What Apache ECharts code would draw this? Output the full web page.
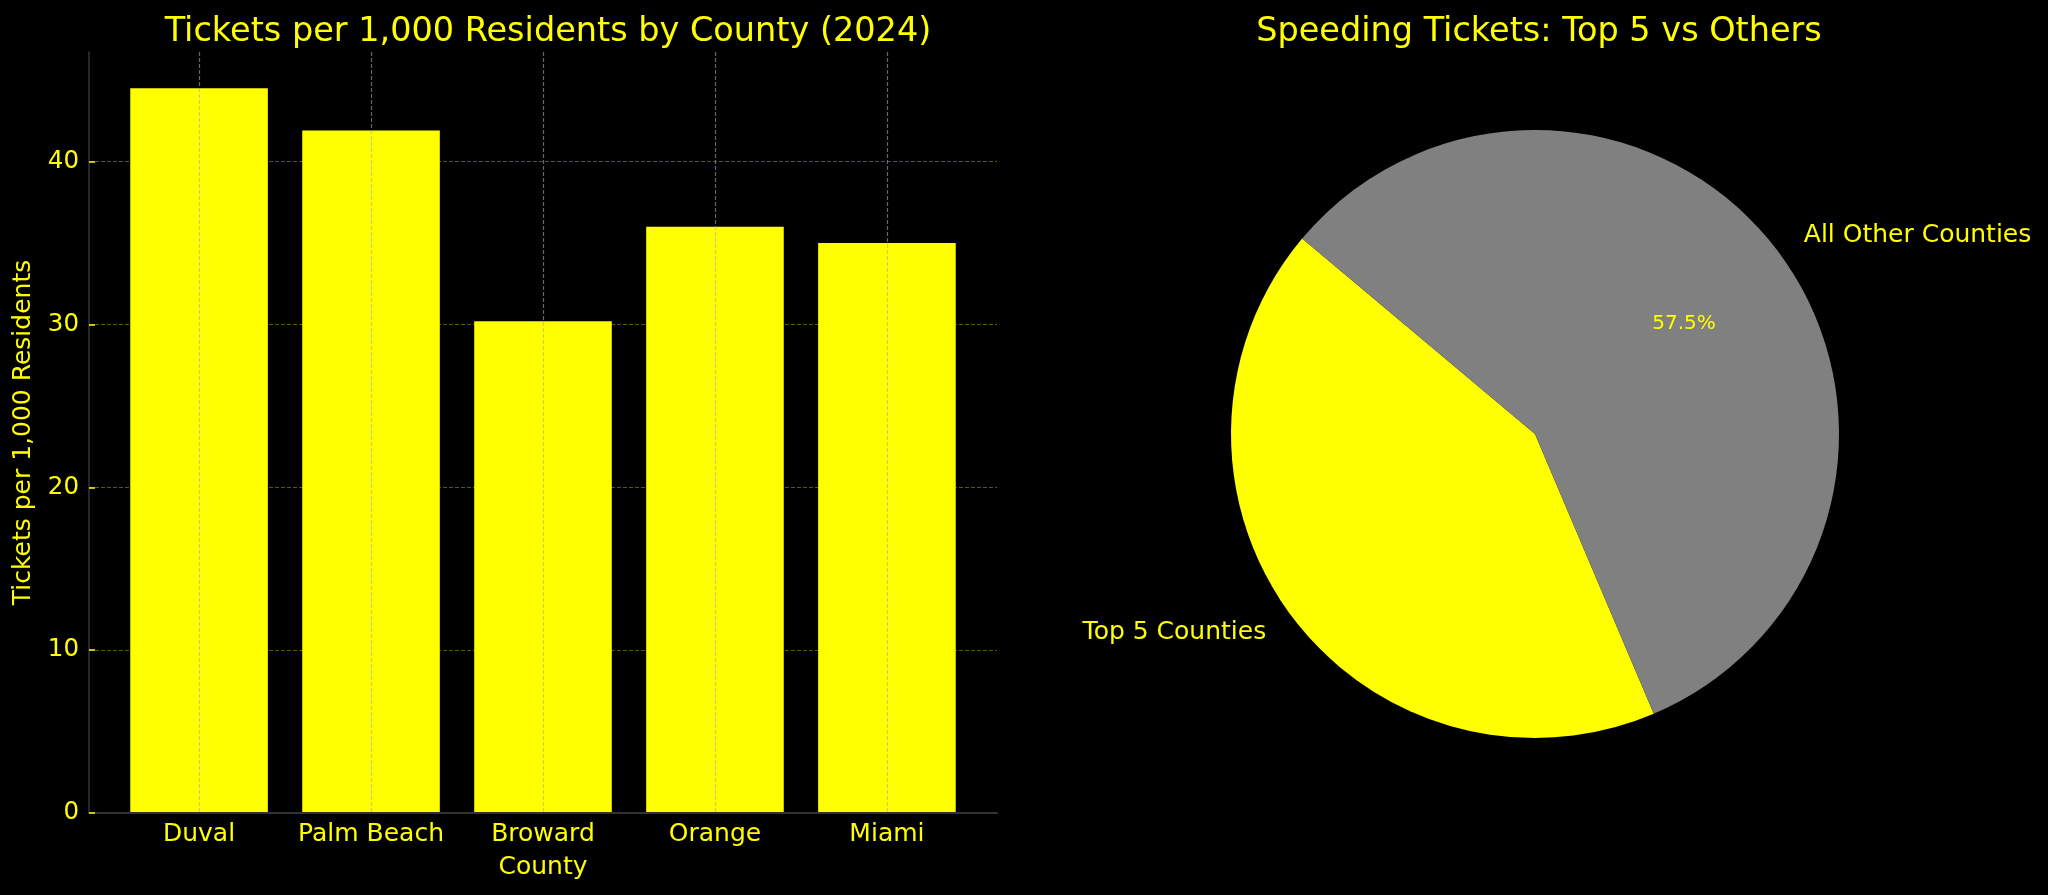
<!DOCTYPE html>
<html>
<head>
<meta charset="utf-8">
<script src="https://cdn.jsdelivr.net/npm/echarts@6/dist/echarts.min.js"></script>
<style>
html,body{margin:0;padding:0;background:#000;}
#c{width:2048px;height:895px;}
</style>
</head>
<body>
<div id="c"></div>
<script>
const categories = ['Duval', 'Palm Beach', 'Broward', 'Orange', 'Miami'];
const ticketsPer1000 = [44.5, 41.9, 30.2, 36.0, 35.0];
const yTicks = [0, 10, 20, 30, 40];
const pieNames = ['Top 5 Counties', 'All Other Counties'];
const pieShares = [42.5, 57.5];

const FONT = 'DejaVu Sans';
const YEL = '#ffff00';
const xIdx = categories.map((c, i) => i);

const chart = echarts.init(document.getElementById('c'), null, {renderer: 'canvas'});
chart.setOption({
  backgroundColor: '#000000',
  animation: false,
  textStyle: {fontFamily: FONT},
  title: [
    {text: 'Tickets per 1,000 Residents by County (2024)', left: 543, top: 10, textAlign: 'center',
     textStyle: {color: YEL, fontSize: 33.5, fontWeight: 'normal', fontFamily: FONT}},
    {text: 'Speeding Tickets: Top 5 vs Others', left: 1534, top: 10, textAlign: 'center',
     textStyle: {color: YEL, fontSize: 33.5, fontWeight: 'normal', fontFamily: FONT}}
  ],
  grid: [{left: 89, right: 1051, top: 52, bottom: 82, containLabel: false}],
  xAxis: [{
    type: 'value', min: -0.64, max: 4.64, z: 3,
    name: 'County', nameLocation: 'middle', nameGap: 42,
    nameTextStyle: {color: YEL, fontSize: 25, fontFamily: FONT},
    axisLine: {show: true, onZero: false, lineStyle: {color: '#333333', width: 2}},
    axisTick: {show: false, customValues: xIdx},
    axisLabel: {customValues: xIdx, color: YEL, fontSize: 25, fontFamily: FONT, margin: 9,
      formatter: v => categories[Math.round(v)] || ''},
    splitLine: {show: true, lineStyle: {color: 'rgba(170,170,170,0.6)', type: [4, 2], width: 1.2}}
  }],
  yAxis: [{
    type: 'value', min: 0, max: 46.725, z: 3,
    name: 'Tickets per 1,000 Residents', nameLocation: 'middle', nameGap: 53,
    nameTextStyle: {color: YEL, fontSize: 25, fontFamily: FONT},
    axisLine: {show: true, onZero: false, lineStyle: {color: '#333333', width: 1.5}},
    axisTick: {show: true, inside: true, length: 6, customValues: yTicks, lineStyle: {color: YEL, width: 1.5}},
    axisLabel: {customValues: yTicks, color: YEL, fontSize: 24.5, fontFamily: FONT, margin: 10},
    splitLine: {show: true, lineStyle: {color: 'rgba(255,255,0,0.35)', type: [4, 2], width: 1.2}}
  }],
  series: [
    {
      type: 'bar', xAxisIndex: 0, yAxisIndex: 0,
      barWidth: '80%',
      itemStyle: {color: YEL},
      data: categories.map((c, i) => [i, ticketsPer1000[i]])
    },
    {
      type: 'pie', center: [1535, 434], radius: [0, 304],
      startAngle: 140, clockwise: false, avoidLabelOverlap: false,
      silent: true,
      data: pieNames.map((n, i) => ({name: n, value: pieShares[i],
        itemStyle: {color: i === 0 ? YEL : '#808080'}})),
      label: {show: true, position: 'outside', formatter: '{b}', color: YEL,
        fontSize: 25, fontFamily: FONT, distanceToLabelLine: 0},
      labelLine: {show: false, length: 30.4, length2: 0},
      emphasis: {disabled: true}
    },
    {
      type: 'pie', center: [1535, 434], radius: [60.8, 304],
      startAngle: 140, clockwise: false, avoidLabelOverlap: false,
      silent: true, percentPrecision: 1, z: 3,
      data: pieNames.map((n, i) => ({name: n, value: pieShares[i],
        itemStyle: {color: 'rgba(0,0,0,0)'}})),
      label: {show: true, position: 'inside', formatter: '{d}%', color: YEL,
        fontSize: 20, fontFamily: FONT},
      labelLine: {show: false},
      emphasis: {disabled: true}
    }
  ]
});
</script>
</body>
</html>
